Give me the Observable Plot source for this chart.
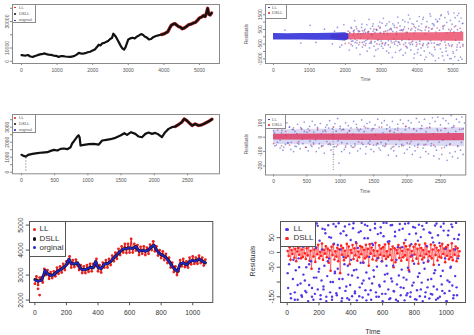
<!DOCTYPE html>
<html><head><meta charset="utf-8">
<script src="https://cdn.jsdelivr.net/npm/d3@7"></script>
<script src="https://cdn.jsdelivr.net/npm/@observablehq/plot@0.6"></script>
<style>
body{margin:0;background:#fff;}
#root{position:relative;width:474px;height:335px;overflow:hidden;background:#fff;font-family:"Liberation Sans",Arial,Helvetica,sans-serif;}
.lab{position:absolute;white-space:nowrap;line-height:1;color:#333;}
.leg{position:absolute;background:#fff;box-sizing:border-box;}
.dot{position:absolute;border-radius:50%;}
</style></head>
<body><div id="root"></div>
<script>
// ---------------- DATA ----------------
// Panel 1 (top-left): long series
const p1Time = [0,60,120,180,250,320,380,450,520,600,650,700,760,830,900,970,1040,1100,1160,1230,1300,1370,1440,1500,1560,1610,1660,1720,1790,1860,1930,2000,2060,2120,2170,2220,2270,2330,2390,2440,2490,2540,2580,2610,2650,2700,2750,2800,2840,2880,2920,2960,3000,3060,3120,3180,3240,3300,3360,3410,3460,3520,3580,3640,3700,3760,3820,3880,3940,4000,4060,4110,4160,4210,4260,4310,4360,4410,4460,4520,4580,4640,4700,4760,4820,4880,4940,5000,5060,5110,5160,5200,5230,5260,5300,5340];
const p1Value = [4600,4400,4300,4700,3600,3300,3900,4600,5200,5600,5900,5400,5000,4800,4300,4100,3300,3800,3900,3600,3400,3300,3700,4200,5200,6300,6000,5700,6100,6800,7200,8200,8900,10800,12500,12000,13600,13900,14800,15500,16800,17500,20800,19800,18500,16000,13500,11000,9500,8800,10500,13500,16500,17300,17800,17200,18600,19500,20500,20000,18700,17900,16500,16800,18200,18900,19400,19800,20200,20600,21500,22300,25000,27200,28000,28400,27300,26200,25800,24500,25200,26400,27600,28000,28800,29300,30800,32700,33400,34500,33800,37000,40000,35500,35000,36500];
const p1XTicks = [0,1000,2000,3000,4000,5000];
const p1YTicks = [0,10000,20000,30000,40000];
const p1YLabels = [0,10000,30000];

// Panel 3 (middle-left): shorter series
const p3Time = [0,30,65,100,165,240,315,390,440,490,540,590,640,690,740,765,790,815,840,860,875,890,940,1015,1090,1165,1215,1280,1340,1415,1490,1550,1590,1650,1715,1765,1815,1865,1915,1965,2015,2065,2115,2165,2215,2265,2315,2365,2415,2450,2490,2530,2570,2615,2665,2715,2765,2815,2870];
const p3Value = [1156,1089,1044,1156,1222,1267,1311,1333,1422,1489,1444,1556,1578,1533,1667,1933,2067,2222,2378,2467,2333,1778,1822,1867,1889,1844,2111,2156,2200,2289,2444,2600,2489,2667,2556,2378,2333,2556,2644,2556,2622,2511,2333,2667,2889,3000,3044,3178,3333,3556,3444,3267,3111,3222,3111,3156,3267,3378,3533];
const p3GapTime = [65], p3GapHigh = [1044], p3GapLow = [60];
const p3XTicks = [0,500,1000,1500,2000,2500];
const p3YTicks = [0,500,1000,1500,2000,2500,3000,3500];
const p3YLabels = [0,1000,2000,3000];

// Panel 2 (top-right): residuals of long series
const p2LLBandTime = [0,400,800,1200,1600,1800,2000,2100];
const p2LLBandHigh = [220,215,230,225,240,260,280,180];
const p2LLBandLow = [-210,-220,-215,-230,-240,-260,-280,-180];
const p2LLEarlyTime = [320,760,1020,1180,1420,1640,1780,1900,1960,1700,1850];
const p2LLEarlyValue = [460,-420,780,-380,520,-480,640,-560,820,380,-700];
const p2LLStart = 2100, p2LLStep = 25;
const p2LLValue = [-420,310,-150,580,-620,120,450,-380,690,-250,200,-540,380,-90,640,-700,260,-330,520,-460,
 820,-180,350,-760,560,-420,150,880,-640,300,-910,470,-220,720,-520,640,-300,930,-780,210,
 -560,760,-980,420,-260,1020,-700,560,-420,880,-150,640,-1050,330,-600,950,-380,720,-860,480,
 1150,-520,680,-1100,300,-760,980,-420,1220,-900,560,-300,840,-1180,410,-640,1060,-860,720,-480,
 -1250,880,-560,1320,-980,460,-1380,1040,-700,620,-1100,1400,-420,900,-1300,760,-860,1180,-540,1060,
 -1450,1220,-820,1500,-1050,680,-1580,1300,-760,980,-1250,1560,-600,1120,-1480,860,-1000,1620,-1350,740,-900,1450,-1600,1050,-700,1280,-1520,920];
const p2LLInnerStart = 2125, p2LLInnerStep = 50;
const p2LLInner = [260,-310,380,-150,-420,340,180,-380,420,-260,310,-440,150,390,-330,460,-200,280,-470,350,
 -390,210,480,-290,370,-500,160,-350,440,-240,520,-410,300,-180,460,-520,240,-380,500,-300,
 410,-460,190,-540,380,-250,560,-430,320,-510,450,-280,540,-360,270,-480,400,-550,330,-220,
 490,-400,360,-520];
const p2LLOuterStart = 2110, p2LLOuterStep = 50;
const p2LLOuter = [-900,640,-280,1100,-760,420,-1200,860,-540,300,-980,1180,-380,720,-1320,500,-820,1000,-640,1260,
 -460,880,-1100,560,-1400,780,-300,1340,-940,460,-1250,1040,-680,1480,-520,900,-1450,620,-1080,1380,
 -760,1180,-1550,700,-420,1560,-1200,860,-1620,1020,-560,1440,-1300,780,-980,1700,-1480,520,-1120,1300,
 -700,1600,-1380,900];
const p2DSLLBandTime = [1600,2000,2500,3000,3500,4000,4500,5000,5300];
const p2DSLLBandHigh = [130,200,220,240,255,270,280,295,305];
const p2DSLLBandLow = [-130,-200,-225,-245,-255,-270,-285,-300,-310];
const p2DSLLStart = 2000, p2DSLLStep = 80;
const p2DSLLValue = [-450,380,-520,300,560,-380,420,-600,350,-300,520,-480,600,-420,380,-550,480,-360,620,-500,
 420,-640,560,-380,700,-520,460,-600,640,-450,520,-700,600,-480,720,-560,500,-650,680,-540,580,-620];
const p2XTicks = [0,1000,2000,3000,4000,5000];
const p2YTicks = [-1500,-1000,-500,0,500,1000,1500];
const p2YLabels = [-1500,-500,500,1500];

// Panel 4 (middle-right): residuals of shorter series
const p4LLBandTime = [0,700,1400,2100,2860];
const p4LLBandHigh = [50,55,58,62,66];
const p4LLBandLow = [-50,-55,-58,-62,-66];
const p4LLStart = 0, p4LLStep = 20;
const p4LLValue = [45,-60,80,-35,95,-75,30,-90,65,-50,100,-40,70,-85,55,-100,40,-65,90,-30,
 -80,60,-45,105,-70,35,-95,75,-55,110,-40,85,-100,50,-75,95,-60,40,-110,70,
 85,-50,115,-90,60,-120,95,-65,130,-180,75,-100,55,-85,100,-45,80,-110,65,-70,
 110,-60,90,-95,45,-80,120,-50,75,-115,95,-40,105,-85,60,-100,85,-55,125,-75,
 -90,100,-60,115,-45,85,-125,70,-80,110,-95,55,-130,90,-65,120,-50,95,-110,75,
 -85,115,-70,100,-120,60,-95,130,-55,105,-140,80,-75,125,-100,65,-115,95,-60,135,
 -130,110,-90,140,-150,85,-120,130,-70,115,-160,95,-110,150,-135,80,-100,125,-145,105,-90,140,-120,100];
const p4LLInnerStart = 14, p4LLInnerStep = 28;
const p4LLInner = [30,-55,62,-20,48,-68,15,-40,70,-35,52,-62,25,-48,66,-12,40,-70,58,-28,
 -64,36,-18,68,-45,22,-58,50,-30,64,-52,18,-66,42,-24,60,-38,54,-70,28,
 44,-60,20,-46,68,-32,56,-14,38,-66,62,-26,48,-56,16,-42,70,-36,30,-64,
 58,-22,46,-68,34,-50,64,-18,26,-58,52,-40,66,-30,20,-62,44,-48,60,-16,
 -54,38,-26,70,-44,24,-66,56,-34,48,-20,62,-58,32,-46,68,-12,40,-64,54,
 -36,60];
const p4DSLLBandTime = [0,700,1400,2100,2860];
const p4DSLLBandHigh = [20,22,23,24,25];
const p4DSLLBandLow = [-20,-22,-23,-24,-25];
const p4DSLLStart = 0, p4DSLLStep = 60;
const p4DSLLValue = [-45,50,-60,40,-55,65,-40,55,-70,45,-50,60,-65,40,-45,70,-55,50,-60,45,
 -70,55,-40,65,-50,60,-45,70,-55,40,-65,50,-60,75,-45,55,-70,60,-50,65,-55,45,-75,60,-50,70,-60,55];
const p4GapTime = [894], p4GapHigh = [81], p4GapLow = [-231];
const p4XTicks = [0,500,1000,1500,2000,2500];
const p4YTicks = [-200,-100,0,100];
const p4YLabels = [-200,-100,0,100];

// Panel 5 (bottom-left): short series
const p5Time = [0,20,40,55,65,80,100,120,140,160,180,200,215,230,250,270,290,310,330,350,370,385,400,420,440,460,480,500,520,540,560,580,600,620,640,660,680,700,720,740,755,770,790,810,830,850,870,890,905,920,940,960,980,1000,1020,1040,1060,1080];
const p5Original = [2800,2750,2780,3000,3200,3050,2980,3000,3150,3200,3300,3400,3650,3450,3450,3500,3250,3200,3250,3300,3300,3550,3300,3250,3450,3450,3550,3700,3800,3950,4050,4050,4100,4050,4150,3950,4000,3950,4000,4150,4200,4000,3850,3800,3700,3550,3350,3200,3150,3450,3500,3400,3550,3600,3550,3650,3550,3500];
const p5DSLL = [2820,2760,2790,2990,3180,3060,2990,3010,3140,3210,3290,3410,3630,3460,3440,3490,3260,3210,3240,3310,3290,3540,3310,3260,3440,3460,3540,3690,3810,3940,4040,4060,4090,4060,4140,3960,3990,3960,4010,4140,4190,4010,3860,3790,3710,3560,3360,3210,3160,3440,3490,3410,3540,3590,3560,3640,3560,3490];
const p5LLStart = 0, p5LLStep = 10;
const p5LL = [2650,2950,2600,2900,2900,2700,3250,3000,3200,2850,
 3120,2880,3150,2950,3300,3050,3350,3100,3450,3200,
 3550,3450,3750,3300,3600,3320,3620,3380,3200,3400,
 3080,3350,3080,3400,3130,3450,3150,3450,3350,3650,
 3150,3400,3100,3500,3300,3600,3300,3650,3400,3780,
 3550,3900,3650,4050,3800,4150,3900,4250,3880,4250,
 3900,4450,3900,4250,3980,4200,3800,4130,3850,4150,
 3800,4100,3850,4220,4000,4350,3950,4150,3780,4000,
 3680,3950,3600,3850,3480,3700,3300,3500,3120,3350,
 3000,3150,3600,3350,3650,3320,3550,3300,3700,3430,
 3750,3450,3700,3450,3780,3480,3700,3380,3620];
const p5LLOutlierTime = [20,30], p5LLOutlierValue = [2450,2200];
const p5XTicks = [0,200,400,600,800,1000];
const p5YTicks = [2000,3000,4000,5000];
const p5YLabels = [2000,3000,4000,5000];

// Panel 6 (bottom-right): residuals of short series
const p6LLStart = 0, p6LLStep = 6;
const p6LL = [85,-120,-40,60,-155,30,-90,95,-135,-60,45,-160,-20,75,-105,-145,20,-75,100,-130,
 -50,90,-165,-110,55,-30,-150,70,-85,-140,15,98,-125,-65,40,-158,-95,80,-115,-45,
 65,-150,-80,92,-20,-135,50,-160,-100,30,-70,88,-145,-55,99,-120,10,-165,-90,72,
 -40,-130,58,-155,-75,95,-110,-25,-148,82,-60,-138,35,-162,-85,68,-118,-35,100,-152,
 -95,48,-128,-68,90,-142,-15,76,-160,-105,25,-82,97,-135,-48,62,-150,-115,85,-30,
 -165,55,-98,-140,100,-72,-125,38,-155,-88,93,-45,-132,70,-160,-108,18,-78,96,-145,
 -58,80,-120,-162,42,-92,-138,99,-65,-150,28,-112,86,-38,-158,64,-128,-82,94,-148,
 52,-102,-165,78,-55,-135,100,-118,-28,-156,66,-90,-142,34,-70,91,-160,-125,58,-42,
 -150,87,-108,-62,98,-138,12,-165,-95,74,-130,-52,95,-112,-155,46,-80,100,-145,-20,60];
const p6LLbStart = 3, p6LLbStep = 9;
const p6LLb = [-70,40,-140,95,-25,-160,60,-110,-50,85,-150,20,-95,-135,70,-40,100,-120,-160,35,
 -85,90,-55,-145,10,-125,78,-165,-30,52,-100,-150,96,-65,-138,25,-90,64,-155,-15,
 88,-115,-45,-160,42,-78,99,-132,-58,15,-148,72,-105,-35,94,-162,48,-88,-128,30,
 -60,82,-150,-20,-110,66,-140,100,-75,-45,36,-158,92,-98,-130,55,-25,-165,76,-118,
 18,-85,97,-145,-52,62,-135,-10,-102,84,-160,40,-70,-125,90,-35,-150,22,-92,68,
 -140,50,-115,-60,98,-155,32,-80,-130,74,-20,-165,58,-100,-48,86,-145,10,-118,45];
const p6DSLLStart = 3, p6DSLLStep = 6;
const p6DSLL = [5,-12,18,-25,8,-5,22,-18,12,-30,3,15,-8,25,-20,10,-15,28,-3,-22,
 14,-10,20,-28,6,-55,24,-14,10,-32,17,-6,26,-20,2,-12,30,-25,9,-4,
 21,-16,13,-35,7,-62,19,-9,27,-24,4,-14,16,-30,11,-70,23,-8,15,-26,
 6,-18,29,-12,20,-40,8,-2,25,-22,14,-10,31,-28,3,-16,22,-6,18,-34,
 9,-20,26,-14,12,-45,28,-4,17,-24,7,-11,33,-27,5,-18,24,-8,13,-30,
 18,-12,27,-22,4,-15,30,-9,11,-26,20,-50,14,-33,8,-3,25,-19,16,-28,
 6,-16,32,-10,21,-25,10,-60,23,-14,5,-29,19,-7,28,-21,12,-38,26,-11,
 15,-24,8,-17,30,-6,20,-31,3,-13,27,-20,10,-42,24,-9,16,-27,7,-15,
 22,-18,29,-5,13,-33,18,-11,25,-23,6,-16,31,-26,11,-8,20,-30,14,-12,4];
const p6XTicks = [0,200,400,600,800,1000];
const p6YTicks = [-150,-100,-50,0,50];
const p6YLabels = [-150,-50,0,50];

// Legends
const legend3 = ["LL","DSLL","orginal"];
const legend2 = ["LL","DSLL"];

// ---------------- helpers ----------------
const root = document.getElementById("root");
const FONT = "'Liberation Sans', Arial, Helvetica, sans-serif";
const zipXY = (ts, vs) => ts.map((t, i) => ({t, v: vs[i]}));
const stepXY = (start, step, vs) => vs.map((v, i) => ({t: start + i * step, v}));
const band = (ts, lo, hi) => ts.map((t, i) => ({t, lo: lo[i], hi: hi[i]}));

function panel(c) {
  const ml = 40, mr = 8, mt = 6, mb = 26;
  const bw = c.R - c.L, bh = c.B - c.T;
  const svg = Plot.plot({
    width: ml + bw + mr, height: mt + bh + mb,
    marginLeft: ml, marginRight: mr, marginTop: mt, marginBottom: mb,
    style: {background: "transparent", overflow: "visible", fontFamily: FONT},
    x: {domain: c.xDomain, label: null},
    y: {domain: c.yDomain, label: null},
    marks: [
      ...c.marks,
      Plot.frame({stroke: c.frame, strokeWidth: 1}),
      Plot.axisX({ticks: c.xTicks, tickFormat: d => String(d), tickSize: c.tickSize, tickPadding: c.xPad,
        fontSize: c.fontSize, stroke: c.frame, fill: c.text, label: null}),
      Plot.axisY({ticks: c.yTicks, tickFormat: d => c.yLabels.includes(d) ? String(d) : "", tickRotate: -90,
        tickSize: c.tickSize, tickPadding: c.yPad, fontSize: c.fontSize, stroke: c.frame, fill: c.text, label: null})
    ]
  });
  svg.style.position = "absolute";
  svg.style.left = (c.L - ml) + "px";
  svg.style.top = (c.T - mt) + "px";
  root.appendChild(svg);
}

function label(str, x, y, size, rotate, color) {
  const d = document.createElement("div");
  d.className = "lab";
  d.textContent = str;
  d.style.left = x + "px"; d.style.top = y + "px"; d.style.fontSize = size + "px";
  if (color) d.style.color = color;
  d.style.transform = "translate(-50%,-50%)" + (rotate ? " rotate(-90deg)" : "");
  root.appendChild(d);
  return d;
}

function legend(box, labels, colors, rows, dotX, textX, size, dotR, border, color) {
  const b = document.createElement("div");
  b.className = "leg";
  b.style.left = box[0] + "px"; b.style.top = box[1] + "px";
  b.style.width = box[2] + "px"; b.style.height = box[3] + "px";
  b.style.border = "1px solid " + border;
  root.appendChild(b);
  labels.forEach((lab, i) => {
    const dt = document.createElement("div");
    dt.className = "dot";
    dt.style.left = (dotX - dotR) + "px"; dt.style.top = (rows[i] - dotR) + "px";
    dt.style.width = dt.style.height = (2 * dotR) + "px";
    dt.style.background = colors[i];
    root.appendChild(dt);
    const el = label(lab, textX, rows[i], size, false, color);
    el.style.transform = "translate(0,-50%)";
  });
}

const RED = "#e82020", BLUE = "#2323cc", BLACK = "#111";
const TOPTEXT = "#555", BOTTEXT = "#333";

// ---------------- Panel 1 ----------------
const p1 = zipXY(p1Time, p1Value);
panel({L: 12.3, T: 4.3, R: 219.3, B: 63.3, xDomain: [-253, 5562], yDomain: [-1700, 42860],
  xTicks: p1XTicks, yTicks: p1YTicks, yLabels: p1YLabels, tickSize: 2, xPad: 2.5, yPad: 2,
  fontSize: 5, frame: "#8a8a8a", text: TOPTEXT,
  marks: [
    Plot.line(p1.filter(d => d.t >= 3900), {x: "t", y: "v", stroke: "#c82828", strokeWidth: 3.4}),
    Plot.line(p1, {x: "t", y: "v", stroke: BLACK, strokeWidth: 2.2, strokeLinejoin: "round"})
  ]});

// ---------------- Panel 3 ----------------
const p3 = zipXY(p3Time, p3Value);
panel({L: 12.3, T: 114, R: 219.3, B: 173.3, xDomain: [-135, 2982], yDomain: [-107, 3847],
  xTicks: p3XTicks, yTicks: p3YTicks, yLabels: p3YLabels, tickSize: 2, xPad: 2.5, yPad: 2,
  fontSize: 5, frame: "#8a8a8a", text: TOPTEXT,
  marks: [
    Plot.ruleX(p3GapTime.map((t, i) => ({t, lo: p3GapLow[i], hi: p3GapHigh[i]})),
      {x: "t", y1: "lo", y2: "hi", stroke: "#999", strokeDasharray: "1.5,1.5"}),
    Plot.line(p3.filter(d => d.t >= 2300), {x: "t", y: "v", stroke: "#c82828", strokeWidth: 3.2}),
    Plot.line(p3, {x: "t", y: "v", stroke: BLACK, strokeWidth: 2.2, strokeLinejoin: "round"})
  ]});

// ---------------- Panel 2 ----------------
const P2DOT = "#5050cc";
panel({L: 265, T: 4, R: 466, B: 63, xDomain: [-223, 5376], yDomain: [-1816, 2197],
  xTicks: p2XTicks, yTicks: p2YTicks, yLabels: p2YLabels, tickSize: 2, xPad: 2.5, yPad: 2,
  fontSize: 5, frame: "#8a8a8a", text: TOPTEXT,
  marks: [
    Plot.dot(stepXY(p2LLStart, p2LLStep, p2LLValue), {x: "t", y: "v", r: 0.85, fill: P2DOT, fillOpacity: 0.55, clip: true}),
    Plot.dot(stepXY(p2LLOuterStart, p2LLOuterStep, p2LLOuter), {x: "t", y: "v", r: 0.85, fill: P2DOT, fillOpacity: 0.55, clip: true}),
    Plot.dot(stepXY(p2LLInnerStart, p2LLInnerStep, p2LLInner), {x: "t", y: "v", r: 0.85, fill: P2DOT, fillOpacity: 0.6, clip: true}),
    Plot.dot(stepXY(p2DSLLStart, p2DSLLStep, p2DSLLValue), {x: "t", y: "v", r: 0.85, fill: "#e03050", fillOpacity: 0.6, clip: true}),
    Plot.areaY(band(p2DSLLBandTime, p2DSLLBandLow, p2DSLLBandHigh), {x: "t", y1: "lo", y2: "hi", fill: "#e8385a", fillOpacity: 0.75}),
    Plot.areaY(band(p2LLBandTime, p2LLBandLow, p2LLBandHigh), {x: "t", y1: "lo", y2: "hi", fill: "#3232d8", fillOpacity: 0.9}),
    Plot.dot(zipXY(p2LLEarlyTime, p2LLEarlyValue), {x: "t", y: "v", r: 0.85, fill: P2DOT, fillOpacity: 0.6})
  ]});

// ---------------- Panel 4 ----------------
panel({L: 265, T: 114, R: 465.3, B: 174.5, xDomain: [-120, 2879], yDomain: [-262.5, 157.6],
  xTicks: p4XTicks, yTicks: p4YTicks, yLabels: p4YLabels, tickSize: 2, xPad: 2.5, yPad: 2,
  fontSize: 5, frame: "#8a8a8a", text: TOPTEXT,
  marks: [
    Plot.areaY(band(p4LLBandTime, p4LLBandLow, p4LLBandHigh), {x: "t", y1: "lo", y2: "hi", fill: "#8080d8", fillOpacity: 0.3}),
    Plot.dot(stepXY(p4LLStart, p4LLStep, p4LLValue), {x: "t", y: "v", r: 0.85, fill: P2DOT, fillOpacity: 0.6, clip: true}),
    Plot.dot(stepXY(p4LLInnerStart, p4LLInnerStep, p4LLInner), {x: "t", y: "v", r: 0.85, fill: P2DOT, fillOpacity: 0.6, clip: true}),
    Plot.ruleX(p4GapTime.map((t, i) => ({t, lo: p4GapLow[i], hi: p4GapHigh[i]})),
      {x: "t", y1: "lo", y2: "hi", stroke: "#888", strokeDasharray: "1,1.5"}),
    Plot.dot(stepXY(p4DSLLStart, p4DSLLStep, p4DSLLValue), {x: "t", y: "v", r: 0.85, fill: "#e03050", fillOpacity: 0.6}),
    Plot.areaY(band(p4DSLLBandTime, p4DSLLBandLow, p4DSLLBandHigh), {x: "t", y1: "lo", y2: "hi", fill: "#e0305a", fillOpacity: 0.8})
  ]});

// ---------------- Panel 5 ----------------
const p5LLData = stepXY(p5LLStart, p5LLStep, p5LL);
panel({L: 29, T: 220.7, R: 212.3, B: 301.7, xDomain: [-34, 1127], yDomain: [1904, 5144],
  xTicks: p5XTicks, yTicks: p5YTicks, yLabels: p5YLabels, tickSize: 3.3, xPad: 4.2, yPad: 3.2,
  fontSize: 6.8, frame: "#555", text: BOTTEXT,
  marks: [
    Plot.line(p5LLData, {x: "t", y: "v", stroke: RED, strokeWidth: 1.1}),
    Plot.dot(p5LLData, {x: "t", y: "v", r: 1.4, fill: RED}),
    Plot.dot(zipXY(p5LLOutlierTime, p5LLOutlierValue), {x: "t", y: "v", r: 1.4, fill: RED}),
    Plot.line(zipXY(p5Time, p5DSLL), {x: "t", y: "v", stroke: BLACK, strokeWidth: 3}),
    Plot.line(zipXY(p5Time, p5Original), {x: "t", y: "v", stroke: BLUE, strokeWidth: 1.8})
  ]});

// ---------------- Panel 6 ----------------
const p6DSLLData = stepXY(p6DSLLStart, p6DSLLStep, p6DSLL);
const P6BLUE = "#5533e6";
panel({L: 280.3, T: 220.7, R: 465.3, B: 301.7, xDomain: [-42, 1121], yDomain: [-169.3, 104.7],
  xTicks: p6XTicks, yTicks: p6YTicks, yLabels: p6YLabels, tickSize: 3.3, xPad: 4.2, yPad: 3,
  fontSize: 6.8, frame: "#555", text: BOTTEXT,
  marks: [
    Plot.line(p6DSLLData, {x: "t", y: "v", stroke: "#ff2a2a", strokeWidth: 0.8, strokeOpacity: 0.7}),
    Plot.dot(p6DSLLData, {x: "t", y: "v", r: 1.3, fill: "#ff2020"}),
    Plot.dot(stepXY(p6LLStart, p6LLStep, p6LL), {x: "t", y: "v", r: 1.2, fill: P6BLUE, clip: true}),
    Plot.dot(stepXY(p6LLbStart, p6LLbStep, p6LLb), {x: "t", y: "v", r: 1.2, fill: P6BLUE, clip: true})
  ]});

// ---------------- Titles & legends ----------------
label("Residuals", 247, 33.5, 4.5, true, TOPTEXT);
label("Time", 365.5, 80, 4.5, false, TOPTEXT);
label("Residuals", 247, 144, 4.5, true, TOPTEXT);
label("Time", 365, 191.7, 4.5, false, TOPTEXT);
label("Residuals", 252, 261, 7, true, BOTTEXT);
label("Time", 372.8, 331, 7, false, BOTTEXT);

legend([12.3, 4.3, 23.7, 19], legend3, [RED, BLACK, BLUE], [7.6, 14.2, 20.4], 15, 19, 4.3, 0.9, "#8a8a8a", TOPTEXT);
legend([12.3, 114, 23.7, 19.3], legend3, [RED, BLACK, BLUE], [118.3, 124.3, 130.2], 15, 19, 4.3, 0.9, "#8a8a8a", TOPTEXT);
legend([265, 4, 22.3, 14.5], legend2, [BLUE, RED], [7.5, 13.3], 269, 272, 4.3, 0.9, "#8a8a8a", TOPTEXT);
legend([265, 114, 21.3, 15], legend2, [BLUE, RED], [119.5, 125], 268.7, 272, 4.3, 0.9, "#8a8a8a", TOPTEXT);
legend([29, 220.7, 36.7, 36], legend3, [RED, BLACK, BLUE], [229.3, 239, 247.5], 34.3, 39.5, 8, 1.6, "#555", BOTTEXT);
legend([280.3, 220.7, 35.7, 26], legend2, [P6BLUE, "#ff2020"], [229.3, 238.3], 287, 293.5, 8, 1.6, "#555", BOTTEXT);
</script>
</body></html>
